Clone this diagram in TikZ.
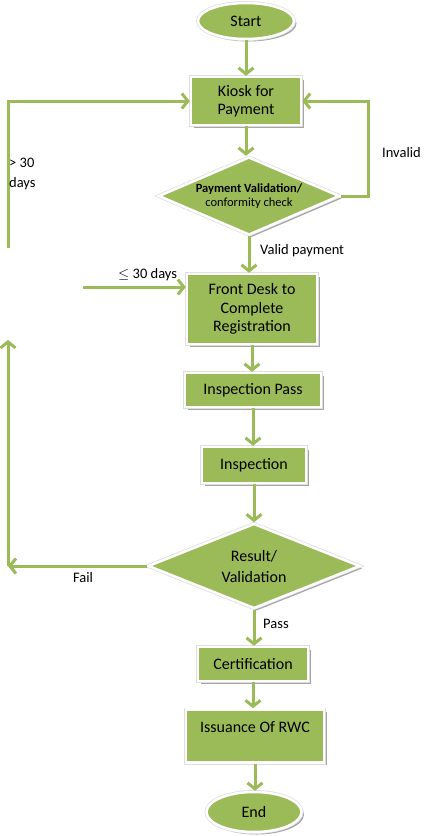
\documentclass[tikz,border=0pt]{standalone}
\usepackage{fontspec}
\setmainfont{Carlito}
\usetikzlibrary{shapes.geometric,shadows,arrows.meta}
\definecolor{og}{HTML}{9BBB59}
\definecolor{sh}{HTML}{A5A5A5}
\begin{document}
\begin{tikzpicture}[x=1pt,y=1pt,
  shad/.style={drop shadow={shadow xshift=2.5pt,shadow yshift=-2.5pt,fill=sh,opacity=1},
    preaction={draw=black!13,line width=4pt}},
  box/.style={rectangle,fill=og,draw=white,line width=2.5pt,text=black,
    font=\fontsize{16}{18.5}\selectfont,align=center,inner sep=0pt,shad},
  term/.style={ellipse,fill=og,draw=white,line width=2.5pt,text=black,
    font=\fontsize{16}{18}\selectfont,inner sep=0pt,shad},
  dec/.style={diamond,fill=og,draw=white,line width=2.5pt,text=black,
    align=center,inner sep=0pt,shad},
  flow/.style={draw=og,line width=3pt,-{Straight Barb[length=6pt,width=15pt]}},
  lbl/.style={font=\fontsize{14.5}{16}\selectfont,inner sep=0pt,anchor=west}]
\useasboundingbox (0,0) rectangle (425,-836);
\fill[white] (0,0) rectangle (425,-836);

\node[term,minimum width=96,minimum height=36] (start) at (246,-21) {Start};
\node[box,minimum width=110,minimum height=48] (kiosk) at (246,-101) {Kiosk for\\Payment};
\node[dec,shape aspect=2.32,minimum width=181,minimum height=78,font=\fontsize{12.5}{13.5}\selectfont] (d1) at (249,-196)
  {\textbf{Payment Validation/}\\conformity check};
\node[box,minimum width=130,minimum height=70] (front) at (252,-309) {Front Desk to\\Complete\\Registration};
\node[box,minimum width=136,minimum height=34] (ipass) at (253,-390) {Inspection Pass};
\node[box,minimum width=104,minimum height=36] (insp) at (254,-465) {Inspection};
\node[dec,shape aspect=2.5,minimum width=212,minimum height=85,font=\fontsize{16}{21}\selectfont] (res) at (254,-566) {Result/\\Validation};
\node[box,minimum width=110,minimum height=34] (cert) at (253,-664) {Certification};
\node[box,minimum width=138,minimum height=53] (iss) at (255,-736) {Issuance Of RWC\\\mbox{}};
\node[term,minimum width=95,minimum height=40] (end) at (254,-812) {End};

\draw[flow] (start.south) -- (start.south |- kiosk.north);
\draw[flow] (kiosk.south) -- (kiosk.south |- d1.north);
\draw[flow] (d1.south) -- (d1.south |- front.north);
\draw[flow] (front.south) -- (front.south |- ipass.north);
\draw[flow] (ipass.south) -- (ipass.south |- insp.north);
\draw[flow] (insp.south) -- (insp.south |- res.north);
\draw[flow] (res.south) -- (res.south |- cert.north);
\draw[flow] (cert.south) -- (cert.south |- iss.north);
\draw[flow] (iss.south) -- (iss.south |- end.north);

\coordinate (bl) at (8,-248);
\draw[flow] (bl) |- (kiosk.west);
\coordinate (ir) at (368,-196);
\draw[flow] (d1.east) -- (ir) |- (kiosk.east);
\coordinate (le) at (83,-287);
\draw[flow] (le) -- (le -| front.west);
\coordinate (fl) at (8,-566);
\coordinate (fu) at (8,-340);
\draw[flow] (res.west) -- (fl);
\draw[flow] (fl) -- (fu);

\node[lbl] (l1) at (9,-163) {> 30};
\node[lbl] (l2) at (9,-184) {days};
\node[lbl] (l3) at (382,-153) {Invalid};
\node[lbl] (l4) at (260,-251) {Valid payment};
\node[lbl] (l5) at (118,-275) {$\leq$ 30 days};
\node[lbl] (l6) at (73,-578) {Fail};
\node[lbl] (l7) at (263,-624) {Pass};
\end{tikzpicture}
\end{document}
